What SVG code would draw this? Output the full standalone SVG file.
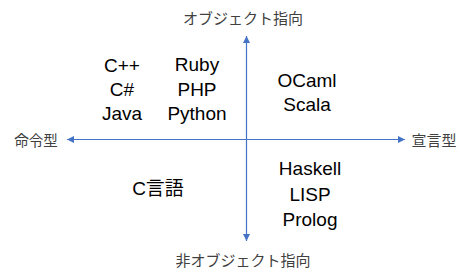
<svg xmlns="http://www.w3.org/2000/svg" width="474" height="278" viewBox="0 0 474 278">
<defs>
<marker id="arr" viewBox="0 0 10 10" refX="10" refY="5" markerWidth="7" markerHeight="7" markerUnits="userSpaceOnUse" orient="auto"><path d="M0,0 L10,5 L0,10 z" fill="#4472C4"/></marker>
<style>
.ax{stroke:#4472C4;stroke-width:1.2;fill:none}
.jp{font-family:"Noto Sans CJK JP","Noto Sans CJK SC",sans-serif;font-size:14px;fill:#404040;text-anchor:middle}
.lang{font-family:"Liberation Sans","Noto Sans CJK JP",sans-serif;font-size:19px;fill:#000;text-anchor:middle}
</style>
</defs>
<rect width="474" height="278" fill="#fff"/>
<g id="connectors">
<line class="ax" x1="246.5" y1="139.5" x2="246.5" y2="36" marker-end="url(#arr)"/>
<line class="ax" x1="246.5" y1="139.5" x2="246.5" y2="241" marker-end="url(#arr)"/>
<line class="ax" x1="246.5" y1="139.5" x2="67" y2="139.5" marker-end="url(#arr)"/>
<line class="ax" x1="246.5" y1="139.5" x2="405" y2="139.5" marker-end="url(#arr)"/>
</g>
<g id="label-top"><text class="jp" x="243" y="24" style="font-size:15px">オブジェクト指向</text></g>
<g id="label-bottom"><text class="jp" x="243" y="266" style="font-size:15px">非オブジェクト指向</text></g>
<g id="label-left"><text class="jp" x="36" y="146" style="font-size:14.5px">命令型</text></g>
<g id="label-right"><text class="jp" x="434" y="146" style="font-size:15px">宣言型</text></g>
<g id="group-cpp"><text class="lang" x="122" y="72">C++</text><text class="lang" x="122" y="96">C#</text><text class="lang" x="122" y="120">Java</text></g>
<g id="group-ruby"><text class="lang" x="197" y="71">Ruby</text><text class="lang" x="197" y="96">PHP</text><text class="lang" x="197" y="120">Python</text></g>
<g id="group-ocaml"><text class="lang" x="307" y="87">OCaml</text><text class="lang" x="307" y="111">Scala</text></g>
<g id="group-c"><text class="lang" x="158" y="195">C言語</text></g>
<g id="group-haskell"><text class="lang" x="310" y="175">Haskell</text><text class="lang" x="310" y="201">LISP</text><text class="lang" x="310" y="226">Prolog</text></g>
</svg>
